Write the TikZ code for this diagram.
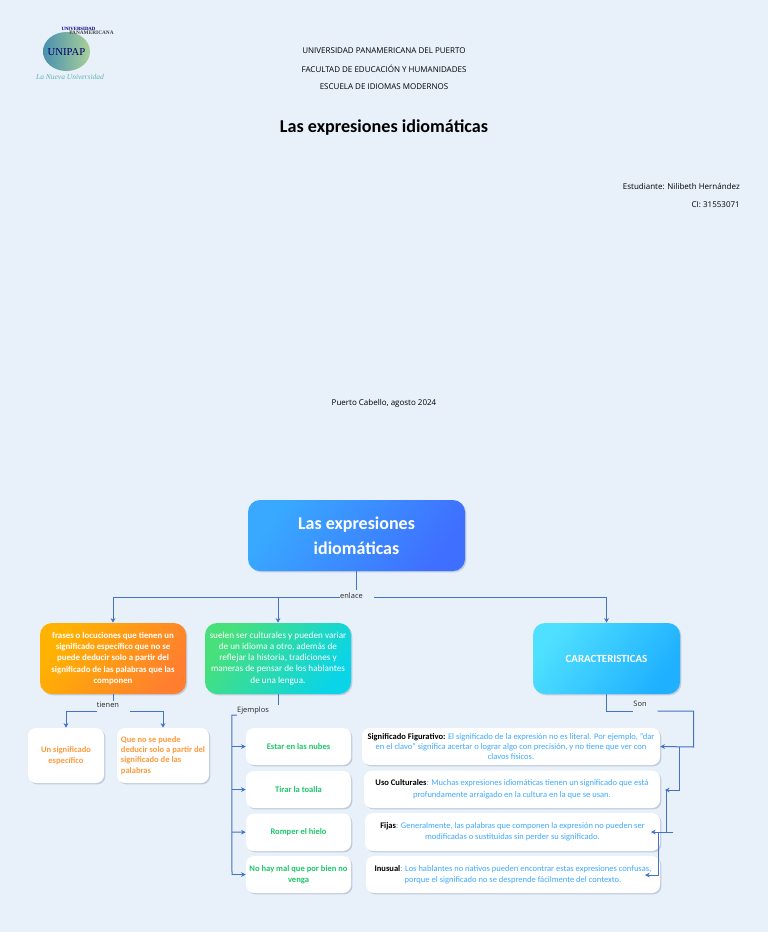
\documentclass[tikz,border=0pt]{standalone}
\usepackage{fontspec}
\setmainfont{Carlito}
\newfontfamily\topfont{Open Sans}
\newfontfamily\logofont{Liberation Serif}
\usetikzlibrary{shadows,arrows.meta,calc}
\definecolor{bgc}{HTML}{E8F0FA}
\definecolor{linec}{HTML}{4472C4}
\definecolor{txto}{HTML}{FF9A3C}
\definecolor{txtg}{HTML}{1DC66C}
\definecolor{txtb}{HTML}{3FA9FF}
\definecolor{shc}{HTML}{8A9AB0}
\definecolor{ma}{HTML}{38A9FF}\definecolor{mb}{HTML}{3F6FFF}
\definecolor{oa}{HTML}{FFB300}\definecolor{ob}{HTML}{FF7F2F}
\definecolor{ga}{HTML}{48E07A}\definecolor{gb}{HTML}{0AD4E8}
\definecolor{ca}{HTML}{4FE0FF}\definecolor{cb}{HTML}{1FB0FF}
\definecolor{loga}{HTML}{4A90B0}\definecolor{logb}{HTML}{A8D098}
\newcommand{\fsz}[2]{\fontsize{#1}{#2}\selectfont}
\newcommand{\kw}[1]{\textcolor{black}{#1}}
\tikzset{
  x=0.75pt,y=-0.75pt,
  soft/.style={drop shadow={shadow xshift=1pt,shadow yshift=-1pt,opacity=.4,fill=shc}},
  gradbox/.style 2 args={left color=#1,right color=#2,shading angle=55,rounded corners=9pt,inner sep=0pt,align=center,text=white,soft},
  whitebox/.style={rounded corners=6pt,fill=white,inner sep=0pt,align=center,soft},
  pagetext/.style={inner sep=0pt,align=center,font=\topfont\fsz{6}{7}},
  lbl/.style={inner sep=0pt,text=black!85,font=\topfont\fsz{5.6}{7}},
  conn/.style={draw=linec,line width=0.75pt},
  arr/.style={conn,-{Stealth[length=3.5pt,width=3.5pt]}},
}
\newcommand{\boxat}[7]{% name, x1,y1,x2,y2, style, text
  \node[#6,minimum width={(#4-#2)*0.75pt},minimum height={(#5-#3)*0.75pt}] (#1) at ({(#2+#4)/2},{(#3+#5)/2}) {#7};}
\begin{document}
\begin{tikzpicture}
\useasboundingbox[fill=bgc] (0,0) rectangle (768,932);
% logo
\shade[left color=loga,right color=logb,shading angle=90] (66.5,51.5) ellipse [x radius=23.5,y radius=19.5];
\node[inner sep=0pt,font=\logofont\fsz{8}{8},text=blue!40!black] (logoa) at (66.5,52.5) {UNIPAP};
\node[inner sep=0pt,font=\logofont\bfseries\fsz{3.6}{4},text=blue!50!black] (logob) at (78.5,28.5) {UNIVERSIDAD};
\node[inner sep=0pt,font=\logofont\bfseries\fsz{4}{4},text=black!75] (logoc) at (91.5,33) {PANAMERICANA};
\node[inner sep=0pt,font=\logofont\itshape\fsz{5.6}{7},text=teal!60!white] (logod) at (70,77) {La Nueva Universidad};
% page text
\node[pagetext] (t1) at (384,50.5) {UNIVERSIDAD PANAMERICANA DEL PUERTO};
\node[pagetext] (t2) at (384,69) {FACULTAD DE EDUCACIÓN Y HUMANIDADES};
\node[pagetext] (t3) at (384,87) {ESCUELA DE IDIOMAS MODERNOS};
\node[inner sep=0pt,font=\bfseries\fsz{13.6}{15}] (title) at (384,128) {Las expresiones idiomáticas};
\node[pagetext,anchor=east] (t4) at (740,186.5) {Estudiante: Nilibeth Hernández};
\node[pagetext,anchor=east] (t5) at (740,204.5) {CI: 31553071};
\node[pagetext] (t6) at (384,403.5) {Puerto Cabello, agosto 2024};
% main boxes
\boxat{main}{248}{500}{465}{571}{gradbox={ma}{mb},font=\bfseries\fsz{13.5}{18.5}}{Las expresiones\\idiomáticas}
\boxat{orange}{40}{623}{186}{694}{gradbox={oa}{ob},font=\bfseries\fsz{6.6}{8.4}}{frases o locuciones que tienen un\\significado específico que no se\\puede deducir solo a partir del\\significado de las palabras que las\\componen}
\boxat{green}{205}{623}{351}{694}{gradbox={ga}{gb},font=\fsz{6.9}{8.3}}{suelen ser culturales y pueden variar\\de un idioma a otro, además de\\reflejar la historia, tradiciones y\\maneras de pensar de los hablantes\\de una lengua.}
\boxat{cyan}{533}{623}{680}{694}{gradbox={ca}{cb},font=\bfseries\fsz{8.2}{10}}{CARACTERISTICAS}
% white boxes
\boxat{w1}{28}{728}{104}{783}{whitebox,text=txto,font=\bfseries\fsz{6.4}{8.4}}{Un significado\\específico}
\boxat{w2}{117}{728}{209}{783}{whitebox,text=txto,align=left,font=\bfseries\fsz{6.4}{7.6}}{Que no se puede\\deducir solo a partir del\\significado de las\\palabras}
\boxat{e1}{246}{728}{351}{765}{whitebox,text=txtg,font=\bfseries\fsz{6.4}{8.4}}{Estar en las nubes}
\boxat{e2}{246}{771}{351}{808}{whitebox,text=txtg,font=\bfseries\fsz{6.4}{8.4}}{Tirar la toalla}
\boxat{e3}{246}{813.5}{351}{851}{whitebox,text=txtg,font=\bfseries\fsz{6.4}{8.4}}{Romper el hielo}
\boxat{e4}{246}{856}{351}{893}{whitebox,text=txtg,font=\bfseries\fsz{6.4}{8.4}}{No hay mal que por bien no\\venga}
\boxat{r1}{362}{728}{660}{765}{whitebox,text=txtb,font=\fsz{6.4}{7.5}}{\kw{\textbf{Significado Figurativo:}} El significado de la expresión no es literal. Por ejemplo, "dar\\en el clavo" significa acertar o lograr algo con precisión, y no tiene que ver con\\clavos físicos.}
\boxat{r2}{364}{770.5}{660}{808}{whitebox,text=txtb,font=\fsz{6.4}{8.4}}{\kw{\textbf{Uso Culturales}}: Muchas expresiones idiomáticas tienen un significado que está\\profundamente arraigado en la cultura en la que se usan.}
\boxat{r3}{365}{813}{660}{851}{whitebox,text=txtb,font=\fsz{6.4}{8.4}}{\kw{\textbf{Fijas}}: Generalmente, las palabras que componen la expresión no pueden ser\\modificadas o sustituidas sin perder su significado.}
\boxat{r4}{366}{856}{660}{893}{whitebox,text=txtb,font=\fsz{6.4}{8.4}}{\kw{\textbf{Inusual}}: Los hablantes no nativos pueden encontrar estas expresiones confusas,\\porque el significado no se desprende fácilmente del contexto.}
% labels
\node[lbl] (enlace) at (351.5,595.5) {enlace};
\node[lbl] (tienen) at (108,705) {tienen};
\node[lbl] (ejemplos) at (253,711) {Ejemplos};
\node[lbl] (son) at (640,704) {Son};
% connector waypoints
\coordinate (hl) at (340,597);
\coordinate (hr) at (374,597);
\coordinate (ol) at (97,711);
\coordinate (or) at (130,711);
\coordinate (sl) at (633,711);
\coordinate (sr) at (657.5,711);
% enlace connectors
\draw[conn] (main.south) -- ++(0,19);
\draw[arr] (hl) -- (113,597) -- (orange.north);
\draw[arr] (278,597) -- (green.north);
\draw[arr] (hr) -- (606.5,597) -- (cyan.north);
% tienen
\draw[conn] (orange.south) -- ++(0,7);
\draw[arr] (ol) -- (66,711) -- (w1.north);
\draw[arr] (or) -- (163,711) -- (w2.north);
% ejemplos
\draw[conn] (green.south) -- ++(0,11);
\draw[conn] (ejemplos.west) ++(0,4) -- ++(-5,0) -- (232,875);
\draw[arr] (232,746.5) -- (e1.west);
\draw[arr] (232,789.5) -- (e2.west);
\draw[arr] (232,832) -- (e3.west);
\draw[arr] (232,874.5) -- (e4.west);
% son
\draw[conn] (cyan.south) -- (606.5,711) -- (sl);
\draw[arr] (sr) -- (693.5,711) -- (693.5,747) -- (r1.east);
\draw[arr] (679,747) -- (679,790) -- (665,790);
\draw[conn] (666,790) -- (666,832);
\draw[arr] (673,832) -- (651,832);
\draw[conn] (658.5,832) -- (658.5,875);
\draw[arr] (658.5,875) -- (645,875);
\end{tikzpicture}
\end{document}
